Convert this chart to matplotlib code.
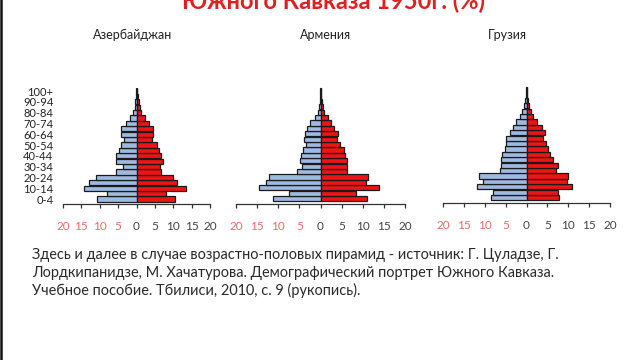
import matplotlib
matplotlib.use("Agg")
import matplotlib.pyplot as plt
from matplotlib.lines import Line2D

plt.rcParams['font.family'] = ['Lato', 'DejaVu Sans']

W, H = 640, 360

age_labels = ["0-4", "", "10-14", "", "20-24", "", "30-34", "", "40-44", "", "50-54",
              "", "60-64", "", "70-74", "", "80-84", "", "90-94", "", "100+"]

countries = ["Азербайджан", "Армения", "Грузия"]

az_male = [10.7, 7.9, 14.4, 13.0, 11.1, 5.6, 3.8, 5.5, 5.5, 4.7, 4.3, 3.5, 4.1, 4.1, 2.9, 1.8, 0.9, 0.5, 0.3, 0.2, 0.1]
az_female = [10.5, 8.0, 13.6, 10.9, 9.8, 6.8, 6.4, 7.1, 6.8, 6.1, 5.5, 4.1, 4.5, 4.4, 3.5, 2.3, 1.2, 0.9, 0.6, 0.4, 0.2]

am_male = [11.3, 7.5, 14.5, 13.0, 12.2, 5.5, 4.3, 4.9, 4.7, 4.2, 3.4, 3.9, 3.7, 3.3, 2.4, 1.4, 0.6, 0.3, 0.15, 0.1, 0.05]
am_female = [11.1, 8.3, 13.8, 10.7, 11.3, 6.2, 6.3, 6.3, 5.7, 5.5, 4.7, 3.9, 4.1, 3.3, 2.5, 1.7, 0.9, 0.6, 0.4, 0.2, 0.1]

ge_male = [8.4, 8.0, 11.8, 10.4, 11.4, 6.4, 6.0, 6.0, 5.8, 5.2, 4.8, 4.8, 4.0, 3.2, 2.6, 1.6, 1.0, 0.6, 0.3, 0.15, 0.08]
ge_female = [7.8, 7.6, 10.8, 9.6, 10.0, 7.0, 7.6, 6.4, 5.6, 5.2, 4.6, 4.0, 4.4, 3.8, 2.4, 1.6, 1.0, 0.6, 0.35, 0.2, 0.1]

males = [az_male, am_male, ge_male]
females = [az_female, am_female, ge_female]

xticks = [-20, -15, -10, -5, 0, 5, 10, 15, 20]
xtick_labels = ["20", "15", "10", "5", "0", "5", "10", "15", "20"]

title_text = "Южного Кавказа 1950г. (%)"
caption_lines = [
    "Здесь и далее в случае возрастно-половых пирамид - источник: Г. Цуладзе, Г.",
    "Лордкипанидзе, М. Хачатурова. Демографический портрет Южного Кавказа.",
    "Учебное пособие. Тбилиси, 2010, с. 9 (рукопись).",
]

BLUE = "#9FBAE0"
RED = "#EE1414"
EDGE = "#1a1a1a"

fig = plt.figure(figsize=(6.4, 3.6), dpi=100)
fig.patch.set_facecolor("white")

# pixel layout of the three pyramids: (x at -20, x at +20, axis y, top y, title center x)
layout = [(63, 210, 204.4, 87.8, 133),
          (236, 405, 204.0, 87.4, 326),
          (443, 610, 203.0, 86.4, 507)]

def fx(px):
    return px / W

def fy(py):
    return 1 - py / H

ages = list(range(len(age_labels)))

for k in range(3):
    x0, x1, yb, yt, tcx = layout[k]
    ax = fig.add_axes([fx(x0), fy(yb), (x1 - x0) / W, (yb - yt) / H])
    ax.barh(ages, [-v for v in males[k]], height=0.95, color=BLUE, edgecolor=EDGE, linewidth=0.9)
    ax.barh(ages, females[k], height=0.95, color=RED, edgecolor=EDGE, linewidth=0.9)
    ax.set_xlim(-20, 20)
    ax.set_ylim(-1, 20.6)
    for s in ["top", "right", "left"]:
        ax.spines[s].set_visible(False)
    ax.spines["bottom"].set_linewidth(0.9)
    ax.spines["bottom"].set_color("#333333")
    ax.set_xticks(xticks)
    ax.set_xticklabels(xtick_labels, fontsize=8.5)
    ax.tick_params(axis="x", length=3, width=0.9, color="#333333", pad=9)
    for lab, t in zip(ax.get_xticklabels(), xticks):
        lab.set_color("#E86A6A" if t < 0 else "#444444")
    if k == 0:
        ax.set_yticks(ages)
        ax.set_yticklabels(age_labels, fontsize=8, color="#222222")
        ax.tick_params(axis="y", length=0, pad=7)
    else:
        ax.set_yticks([])
    ax.patch.set_alpha(0)
    fig.text(fx(tcx), fy(35), countries[k], ha="center", va="center", fontsize=9, color="#222222")

# title (clipped at top, as in the slide) and caption, sized to the reference widths
renderer = fig.canvas.get_renderer()

def fit(txt, target_px):
    ext = txt.get_window_extent(renderer=renderer)
    txt.set_fontsize(txt.get_fontsize() * target_px / ext.width)

t = fig.text(fx(333), fy(9), title_text, ha="center", va="baseline", fontsize=16,
             fontweight="bold", color="#E02020")
fit(t, 302)

cap = []
for i, line in enumerate(caption_lines):
    c = fig.text(fx(32), fy(255 + 17.5 * i), line, ha="left", va="center", fontsize=9, color="#2a2a2a")
    cap.append(c)
fit(cap[0], 526)
for c in cap[1:]:
    c.set_fontsize(cap[0].get_fontsize())

fig.add_artist(Line2D([fx(1.2), fx(1.2)], [0, 1], color="#111111", linewidth=1.8))

fig.savefig("out.png", dpi=100, facecolor="white")
